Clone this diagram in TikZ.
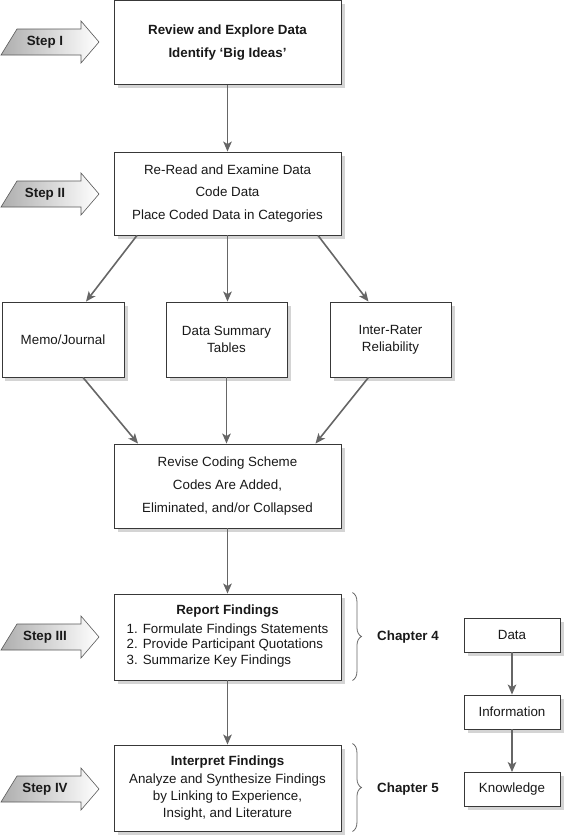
\documentclass[tikz,border=0pt]{standalone}
\usepackage{fontspec}
\setmainfont{Liberation Sans}
\usetikzlibrary{arrows.meta,shadows,decorations.pathreplacing}
\newcommand{\steparrow}[3]{%
  \path[stepshape] (17,#2-13) -- (81,#2-13) -- (81,#2-21) -- (99,#2) -- (81,#2+21) -- (81,#2+13) -- (1,#2+13) -- cycle;
  \node[steptext] (#1) at (45,#2) {#3};
}
\begin{document}
\begin{tikzpicture}[x=1bp,y=-1bp,
  box/.style={draw=black!78, line width=0.9bp, fill=white,
    drop shadow={shadow xshift=3.5bp,shadow yshift=-3.5bp,fill=black!17,opacity=1},
    inner sep=0pt, align=center, text=black!90},
  big/.style={box, minimum width=227bp, font=\fontsize{13.4}{23}\selectfont},
  small/.style={box, minimum width=122bp, minimum height=75bp, font=\fontsize{13.4}{17}\selectfont},
  chain/.style={box, minimum width=96bp, minimum height=34bp, font=\fontsize{13.4}{16}\selectfont},
  conn/.style={draw=black!60, line width=1.6bp, -{Stealth[length=10bp,width=8.5bp,inset=2.5bp]}},
  stepshape/.style={draw=black!65, line width=0.6bp, left color=black!32, right color=white},
  steptext/.style={font=\fontsize{13.4}{15}\selectfont\bfseries, text=black!90, inner sep=0pt},
  chap/.style={font=\fontsize{13.4}{15}\selectfont\bfseries, text=black!90, inner sep=0pt, anchor=west},
  bracestyle/.style={draw=black!60, line width=0.8bp, decorate, decoration={brace, amplitude=9bp}},
]
\useasboundingbox (0,0) rectangle (565,836);

% main boxes
\node[big, minimum height=84bp] (b1) at (227.5,42.5) {\bfseries Review and Explore Data\\\bfseries Identify ‘Big Ideas’};
\node[big, minimum height=83bp] (b2) at (227.5,193.5) {Re-Read and Examine Data\\Code Data\\Place Coded Data in Categories};
\node[small] (ma) at (63,339.5) {Memo/Journal};
\node[small, minimum width=121bp] (mb) at (226.5,339.5) {Data Summary\\Tables};
\node[small, minimum width=121bp] (mc) at (390.5,339.5) {Inter-Rater\\Reliability};
\node[big, minimum height=84bp] (rev) at (227.5,486) {Revise Coding Scheme\\Codes Are Added,\\Eliminated, and/or Collapsed};
\node[big, minimum height=86bp, font=\fontsize{13.4}{16}\selectfont] (rep) at (227.5,637) {%
  {\bfseries Report Findings}\\[4bp]
  \begin{tabular}{@{}l@{}}1. Formulate Findings Statements\\2. Provide Participant Quotations\\3. Summarize Key Findings\end{tabular}};
\node[big, minimum height=86bp, font=\fontsize{13.4}{17}\selectfont] (int) at (227.5,788) {%
  {\bfseries Interpret Findings}\\[2bp]Analyze and Synthesize Findings\\by Linking to Experience,\\Insight, and Literature};

% data chain
\node[chain] (data) at (512,635) {Data};
\node[chain] (info) at (512,712) {Information};
\node[chain] (know) at (512,789.5) {Knowledge};

% step arrows
\steparrow{s1}{42}{Step I}
\steparrow{s2}{194}{Step II}
\steparrow{s3}{637}{Step III}
\steparrow{s4}{789}{Step IV}

% braces and chapters
\draw[bracestyle] ([xshift=11bp,yshift=1bp]rep.north east) -- ([xshift=11bp]rep.south east);
\draw[bracestyle] ([xshift=11bp,yshift=1bp]int.north east) -- ([xshift=11bp]int.south east);
\node[chap] (ch4) at (377,637) {Chapter 4};
\node[chap] (ch5) at (377,789) {Chapter 5};

% connectors
\draw[conn] (b1) -- (b2);
\draw[conn] ([xshift=-90.5bp]b2.south) -- ([xshift=23bp]ma.north);
\draw[conn] (b2.south) -- (b2.south |- mb.north);
\draw[conn] ([xshift=90.5bp]b2.south) -- ([xshift=-22bp]mc.north);
\draw[conn] ([xshift=20bp]ma.south) -- ([xshift=-89.5bp]rev.north);
\draw[conn] (mb.south) -- (mb.south |- rev.north);
\draw[conn] ([xshift=-22bp]mc.south) -- ([xshift=88bp]rev.north);
\draw[conn] (rev) -- (rep);
\draw[conn] (rep) -- (int);
\draw[conn] (data) -- (info);
\draw[conn] (info) -- (know);
\end{tikzpicture}
\end{document}
